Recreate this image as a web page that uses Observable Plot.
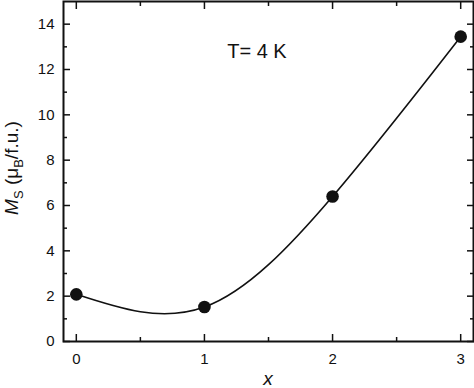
<!DOCTYPE html>
<html><head><meta charset="utf-8">
<script src="https://cdn.jsdelivr.net/npm/d3@7"></script>
<script src="https://cdn.jsdelivr.net/npm/@observablehq/plot@0.6"></script>
<style>html,body{margin:0;padding:0;background:#fff}#chart svg{display:block}</style>
</head><body><div id="chart"></div>
<script>
const xValues = [0, 1, 2, 3];
const msValues = [2.08, 1.52, 6.4, 13.45];
const xMajorTicks = [0, 1, 2, 3];
const xMinorTicks = [0.5, 1.5, 2.5];
const yMajorTicks = [0, 2, 4, 6, 8, 10, 12, 14];
const yMinorTicks = [1, 3, 5, 7, 9, 11, 13];
const annotation = [{x: 1.41, y: 12.8, text: "T= 4 K"}];

const data = xValues.map((x, i) => ({x, ms: msValues[i]}));
const font = "'Liberation Sans', Arial, Helvetica, sans-serif";
const ink = "#111";
const blank = () => "";
const intFmt = d => String(d);

const plot = Plot.plot({
  width: 474, height: 388,
  marginLeft: 63, marginRight: 1, marginTop: 1, marginBottom: 47,
  x: {domain: [-0.1, 3.1]},
  y: {domain: [0, 15]},
  style: {fontFamily: font, fontSize: "15px", color: ink, background: "#fff"},
  marks: [
    Plot.axisY({anchor: "left", ticks: yMajorTicks, tickSize: -7, tickFormat: blank, label: null, strokeWidth: 1.5}),
    Plot.axisY({anchor: "left", ticks: yMinorTicks, tickSize: -4, tickFormat: blank, label: null, strokeWidth: 1.5}),
    Plot.axisY({anchor: "right", ticks: yMajorTicks, tickSize: -7, tickFormat: blank, label: null, strokeWidth: 1.5}),
    Plot.axisY({anchor: "right", ticks: yMinorTicks, tickSize: -4, tickFormat: blank, label: null, strokeWidth: 1.5}),
    Plot.axisX({anchor: "bottom", ticks: xMajorTicks, tickSize: -7, tickFormat: blank, label: null, strokeWidth: 1.5}),
    Plot.axisX({anchor: "bottom", ticks: xMinorTicks, tickSize: -4, tickFormat: blank, label: null, strokeWidth: 1.5}),
    Plot.axisX({anchor: "top", ticks: xMajorTicks, tickSize: -7, tickFormat: blank, label: null, strokeWidth: 1.5}),
    Plot.axisX({anchor: "top", ticks: xMinorTicks, tickSize: -4, tickFormat: blank, label: null, strokeWidth: 1.5}),
    Plot.axisY({anchor: "left", ticks: yMajorTicks, tickSize: 0, tickPadding: 9, tickFormat: intFmt, label: null}),
    Plot.axisX({anchor: "bottom", ticks: xMajorTicks, tickSize: 0, tickPadding: 12, tickFormat: intFmt, label: null}),
    Plot.frame({stroke: ink, strokeWidth: 2}),
    Plot.line(data, {x: "x", y: "ms", curve: "natural", stroke: ink, strokeWidth: 1.6}),
    Plot.dot(data, {x: "x", y: "ms", r: 6.3, fill: ink, stroke: null}),
    Plot.text(annotation, {x: "x", y: "y", text: "text", fontSize: 20, fill: ink})
  ]
});
document.getElementById("chart").append(plot);

const svg = d3.select(plot);
const ys = plot.scale("y"), xs = plot.scale("x");
const cy = (ys.range[0] + ys.range[1]) / 2 - 3;
const ylab = svg.append("text")
  .attr("transform", `translate(17.5,${cy}) rotate(-90)`)
  .attr("text-anchor", "middle")
  .attr("font-family", font).attr("font-size", 19).attr("fill", ink);
ylab.append("tspan").attr("font-style", "italic").text("M");
ylab.append("tspan").attr("font-size", 13).attr("dy", 5).text("S");
ylab.append("tspan").attr("dy", -5).text(" (\u03bc");
ylab.append("tspan").attr("font-size", 13).attr("dy", 5).text("B");
ylab.append("tspan").attr("dy", -5).text("/f.u.)");

const cx = (xs.range[0] + xs.range[1]) / 2;
svg.append("text")
  .attr("x", cx).attr("y", 385)
  .attr("text-anchor", "middle")
  .attr("font-family", font).attr("font-size", 19).attr("font-style", "italic").attr("fill", ink)
  .text("x");
</script>
</body></html>
